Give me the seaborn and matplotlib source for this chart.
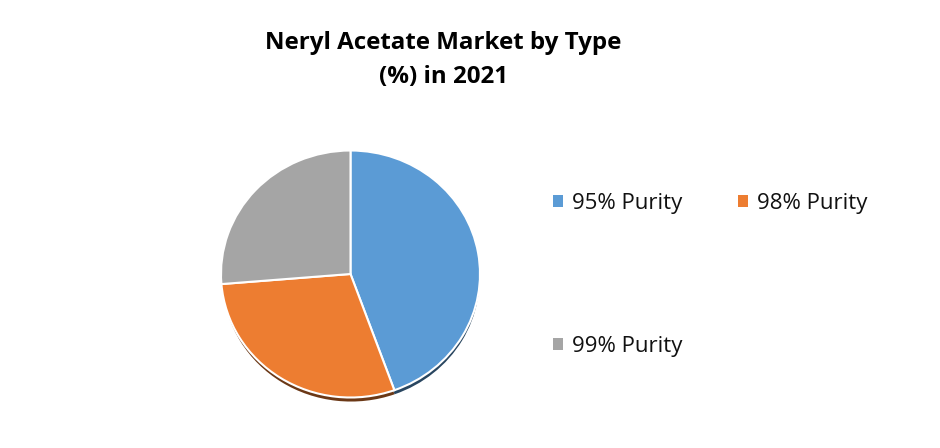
import matplotlib
matplotlib.use("Agg")
import matplotlib.pyplot as plt
import seaborn as sns
from matplotlib.patches import Patch
import matplotlib.colors as mcolors

categories = ["95% Purity", "98% Purity", "99% Purity"]
shares = [44.5, 29.2, 26.3]
title_text = "Neryl Acetate Market by Type\n(%) in 2021"

sns.set_theme(style="white")
plt.rcParams['font.family'] = ['Open Sans', 'DejaVu Sans']

colors = ["#5B9BD5", "#ED7D31", "#A5A5A5"]

def darker(c, f=0.45):
    r, g, b = mcolors.to_rgb(c)
    return (r * f, g * f, b * f)

W, H = 940, 448
fig = plt.figure(figsize=(W / 100, H / 100), dpi=100)
ax = fig.add_axes([0, 0, 1, 1])

sy = 123.5 / 129.5  # vertical squash of the pie (px per y unit)
cx, cy_px, R = 350.5, 274, 129.5
cy = (H - cy_px) / sy
# shadow
ax.pie(shares, colors=[darker(c) for c in colors], startangle=90, counterclock=False,
       center=(cx + 0.5, cy - 5 / sy), radius=R - 1, wedgeprops=dict(linewidth=0))
wedges, _ = ax.pie(shares, colors=colors, startangle=90, counterclock=False,
                   center=(cx, cy), radius=R,
                   wedgeprops=dict(linewidth=1.5, edgecolor="white"))
ax.set_aspect('auto')
ax.set_xlim(0, W)
ax.set_ylim(0, H / sy)
ax.axis('off')

fig.text(443.5 / W, 1 - 60 / H, title_text, ha='center', va='center', fontsize=17.4,
         fontweight='bold', color='black', linespacing=1.6)

handles = [Patch(facecolor=colors[i], edgecolor='none', label=categories[i]) for i in range(3)]
order = [0, 2, 1]
leg = ax.legend([handles[i] for i in order], [categories[i] for i in order],
                ncol=2, loc='upper left', bbox_to_anchor=(553 / W, 1 - 193 / H),
                bbox_transform=fig.transFigure, frameon=False, fontsize=16,
                handlelength=0.45, handleheight=0.45, handletextpad=0.4,
                labelspacing=5.48, columnspacing=2.52, borderpad=0, borderaxespad=0)
for t in leg.get_texts():
    t.set_color('#111111')

fig.savefig("out.png", dpi=100)
